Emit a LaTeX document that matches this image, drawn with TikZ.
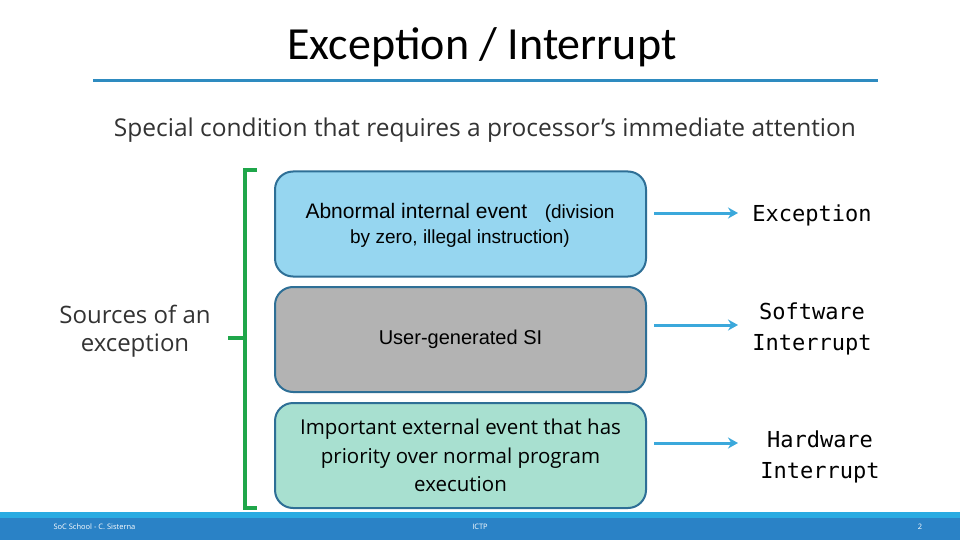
\documentclass[tikz,border=0pt]{standalone}
\usepackage{fontspec}
\setmainfont{Open Sans}
\newfontfamily\titlefont{Carlito}
\newfontfamily\arialfont{Liberation Sans}
\newfontfamily\monofont{DejaVu Sans Mono}
\definecolor{bordc}{HTML}{2E6F96}
\definecolor{lblue}{HTML}{96D6F0}
\definecolor{lgray}{HTML}{B3B3B3}
\definecolor{lmint}{HTML}{A8E0D0}
\definecolor{arrc}{HTML}{3BA8DB}
\definecolor{grn}{HTML}{1FA64A}
\definecolor{foot}{HTML}{2A82C6}
\definecolor{footl}{HTML}{29ABE2}
\definecolor{rulec}{HTML}{2E8BC0}
\tikzset{
 box/.style={draw=bordc,line width=2pt,rounded corners=18pt,minimum width=371pt,minimum height=105pt,align=center,text=black},
 arr/.style={draw=arrc,line width=3pt,-{Stealth[length=10pt,width=11pt]}},
 lab/.style={font=\monofont\fontsize{22}{31}\selectfont,align=center,text=black},
 ft/.style={font=\fontsize{7.5}{8}\selectfont,text=white}
}
\usetikzlibrary{arrows.meta}
\begin{document}
\begin{tikzpicture}[x=1pt,y=-1pt]
\useasboundingbox (0,0) rectangle (960,540);
\fill[white] (0,0) rectangle (960,540);
\node (title) at (482,47) {\titlefont\fontsize{46}{48}\selectfont Exception / Interrupt};
\draw[rulec,line width=3pt] (93,81) -- (878,81);
\node (sub) at (485,130) {\fontsize{24.5}{28}\selectfont\color{black!80}Special condition that requires a processor{\char"0027}s immediate attention};
\node[box,fill=lblue] (b1) at (460.5,224) {};
\node[font=\arialfont\fontsize{21}{25}\selectfont,align=center,text=black] (t1) at (460,225) {Abnormal internal event \ \ {\fontsize{19}{25}\selectfont(division}\\{\fontsize{19}{25}\selectfont by zero, illegal instruction)}};
\node[box,fill=lgray,font=\arialfont\fontsize{20}{22}\selectfont] (b2) at (460.5,339.5) {User-generated SI};
\node[box,fill=lmint,font=\fontsize{20.5}{28.5}\selectfont] (b3) at (460.5,455.5) {Important external event that has\\priority over normal program\\execution};
\node[lab] (l1) at (812,215) {Exception};
\node[lab] (l2) at (812,329) {Software\\Interrupt};
\node[lab] (l3) at (820,457) {Hardware\\Interrupt};
\coordinate (a1) at (654,213); \coordinate (e1) at (738,213);
\coordinate (a2) at (654,325); \coordinate (e2) at (738,325);
\coordinate (a3) at (654,443); \coordinate (e3) at (738,443);
\draw[arr] (a1) -- (e1);
\draw[arr] (a2) -- (e2);
\draw[arr] (a3) -- (e3);
\draw[grn,line width=3.5pt] (257,170) -- (245,170) -- (245,508) -- (257,508);
\draw[grn,line width=3.5pt] (228,338) -- (245,338);
\node[align=center,font=\fontsize{24}{28}\selectfont,text=black!80] (src) at (135,331) {Sources of an\\exception};
\fill[footl] (0,512) rectangle (960,519);
\fill[foot] (0,518) rectangle (960,540);
\node[ft,anchor=west] (f1) at (50,527) {SoC School - C. Sisterna};
\node[ft] (f2) at (480,527) {ICTP};
\node[ft] (f3) at (920,527) {2};
\end{tikzpicture}
\end{document}
